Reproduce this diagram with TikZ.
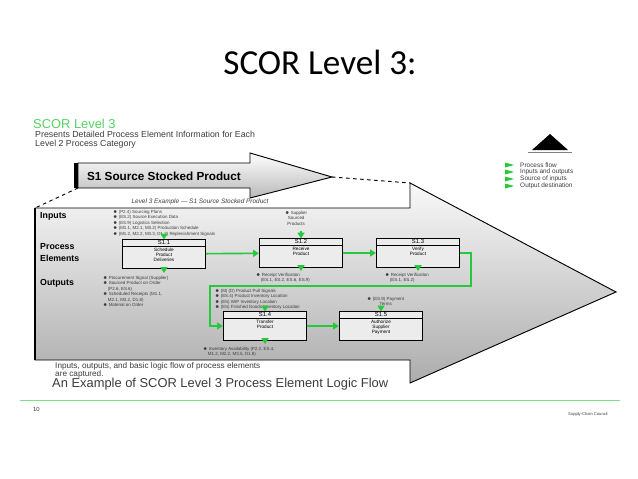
\documentclass[tikz,border=0pt]{standalone}
\usepackage{fontspec}
\setmainfont{Liberation Sans}
\newfontfamily\slidefont{Carlito}
\usepackage{xcolor}
\usepackage{tikz}
\definecolor{green}{RGB}{40,200,60}
\definecolor{darkgrey}{RGB}{60,60,60}
\usetikzlibrary{arrows.meta,calc}

\tikzset{
  pe/.style={draw=black, thick, fill=gray!15, minimum width=71, minimum height=24, inner sep=0pt},
  flow/.style={green, line width=1.4pt, -{Triangle[length=5pt,width=6pt]}},
  txt/.style={font=\fontsize{3.8}{4.6}\selectfont, align=left, anchor=north west, inner sep=0pt, text=darkgrey},
  row/.style={font=\fontsize{7.5}{7.5}\selectfont\bfseries, anchor=west, inner sep=0pt}
}

\begin{document}
\begin{tikzpicture}[x=0.03cm, y=-0.03cm]
    \useasboundingbox (0,0) rectangle (638,479);
    % Slide title
    \node[font=\slidefont\fontsize{30}{30}\selectfont] (title) at (320,62) {SCOR Level 3:};

    % Page heading
    \node[anchor=west, inner sep=0pt, text=green!80!white, font=\fontsize{11}{11}\selectfont] (head) at (33,124) {SCOR Level 3};
    \node[txt, font=\fontsize{7.5}{7.5}\selectfont] (sub) at (35,131) {Presents Detailed Process Element Information for Each\\Level 2 Process Category};

    % Icon and legend
    \fill (532,150) -- (550,134) -- (568,150) -- cycle;
    \draw[gray, thick] (528,152) -- (572,152);
    \foreach \y/\t in {165/Process flow, 172/Inputs and outputs, 179/Source of inputs, 186/Output destination}
      \node[txt, font=\fontsize{5.5}{5.5}\selectfont, anchor=west] at (520,\y) {\t};
    \foreach \y in {165,172,179,186}
      \fill[green] (505,\y-2.5) -- (514,\y) -- (505,\y+2.5) -- cycle;

    % Small arrow
    \shade[top color=white, bottom color=gray!55, draw=black, thick]
      (78,163) -- (250,163) -- (250,153) -- (332,177) -- (250,198) -- (250,188) -- (78,188) -- cycle;
    \fill (74,163) rectangle (78,188);
    \node[font=\fontsize{10}{10}\selectfont\bfseries] (src) at (164,176) {S1 Source Stocked Product};
    \draw[dashed, thick] (78,188) -- (35,208);
    \draw[dashed, thick] (332,177) -- (410,183);

    % Big arrow
    \shade[top color=gray!5, bottom color=gray!65, draw=black, thick]
      (35,208) -- (410,208) -- (410,183) -- (616,292) -- (410,383) -- (410,360) -- (35,360) -- cycle;
    \draw[line width=2pt] (35,208) -- (35,360);
    \node[font=\fontsize{5.5}{5.5}\selectfont\itshape, text=darkgrey] (ex) at (200,202) {Level 3 Example --- S1 Source Stocked Product};

    % Row labels
    \node[row] (lin) at (40,216) {Inputs};
    \node[row] (lpe) at (40,247) {Process};
    \node[row] (lel) at (40,258) {Elements};
    \node[row] (lout) at (40,283) {Outputs};

    % Process elements
    \node[pe] (s11) at (164,254) {};
    \node[pe] (s12) at (301,253) {};
    \node[pe] (s13) at (418,253) {};
    \node[pe] (s14) at (265,326) {};
    \node[pe] (s15) at (381,326) {};
    \foreach \n/\id/\t in {s11/S1.1/{Schedule\\Product\\Deliveries}, s12/S1.2/{Receive\\Product}, s13/S1.3/{Verify\\Product}, s14/S1.4/{Transfer\\Product}, s15/S1.5/{Authorize\\Supplier\\Payment}}{
      \draw[thick] ($(\n.north west)+(0,7)$) -- ($(\n.north east)+(0,7)$);
      \node[font=\fontsize{5}{5}\selectfont, inner sep=0pt] at ($(\n.north)+(0,3.5)$) {\id};
      \node[font=\fontsize{4}{4.4}\selectfont, align=center, anchor=north, inner sep=0pt] at ($(\n.north)+(0,8.5)$) {\t};
    }

    % Inputs and outputs
    \node[txt] (in1) at (113,210) {$\bullet$ (P2.4) Sourcing Plans\\$\bullet$ (ES.2) Source Execution Data\\$\bullet$ (ES.9) Logistics Selection\\$\bullet$ (M1.1, M2.1, M3.2) Production Schedule\\$\bullet$ (M1.2, M2.2, M3.3, D1.3) Replenishment Signals};
    \node[txt, align=center] (in2) at (285,211) {$\bullet$ Supplier\\Sourced\\Products};
    \node[txt] (out1) at (103,276) {$\bullet$ Procurement Signal (Supplier)\\$\bullet$ Sourced Product on Order\\\hspace*{4pt}(P2.6, ES.6)\\$\bullet$ Scheduled Receipts (M1.1,\\\hspace*{4pt}M2.1, M3.2, D1.8)\\$\bullet$ Material on Order};
    \node[txt] (out2) at (256,273) {$\bullet$ Receipt Verification\\\hspace*{4pt}(ES.1, ES.2, ES.6, ES.9)};
    \node[txt] (out3) at (385,273) {$\bullet$ Receipt Verification\\\hspace*{4pt}(ES.1, ES.2)};
    \node[txt] (in4) at (215,289) {$\bullet$ (M) (D) Product Pull Signals\\$\bullet$ (ES.4) Product Inventory Location\\$\bullet$ (ES) WIP Inventory Location\\$\bullet$ (ES) Finished Goods Inventory Location};
    \node[txt, align=center] (in5) at (367,297) {$\bullet$ (ES.9) Payment\\Terms};
    \node[txt] (out4) at (203,347) {$\bullet$ Inventory Availability (P2.2, ES.4,\\\hspace*{4pt}M1.2, M2.2, M3.5, D1.8)};

    % Flows
    \coordinate (c1) at (164,234);
    \coordinate (c2) at (164,273);
    \coordinate (c3) at (301,231);
    \coordinate (c4) at (301,271);
    \coordinate (c5) at (418,271);
    \coordinate (c6) at (265,307);
    \coordinate (c7) at (265,344);
    \coordinate (c8) at (381,306);
    \draw[flow] (c1) -- (s11);
    \draw[flow] (s11) -- (c2);
    \draw[flow] (c3) -- (s12);
    \draw[flow] (s12) -- (c4);
    \draw[flow] (s13) -- (c5);
    \draw[flow] (c6) -- (s14);
    \draw[flow] (s14) -- (c7);
    \draw[flow] (c8) -- (s15);
    \draw[flow] (s11) -- (s12);
    \draw[flow] (s12) -- (s13);
    \draw[flow] (s14) -- (s15);
    \draw[flow] (s13.east) -- ++(11,0) |- (210,286) |- (s14.west);

    % Caption and footer
    \node[txt, font=\fontsize{7}{7.5}\selectfont] (cap) at (55,362) {Inputs, outputs, and basic logic flow of process elements\\are captured.};
    \node[anchor=west, inner sep=0pt, text=darkgrey, font=\fontsize{11}{11}\selectfont] (bot) at (52,384) {An Example of SCOR Level 3 Process Element Logic Flow};
    \draw[green!60, thick] (20,400) -- (620,400);
    \node[txt, font=\fontsize{5}{5}\selectfont] (pg) at (33,407) {10};
    \node[txt, font=\fontsize{3.5}{3.5}\selectfont] (scc) at (568,412) {Supply-Chain Council};
\end{tikzpicture}
\end{document}
